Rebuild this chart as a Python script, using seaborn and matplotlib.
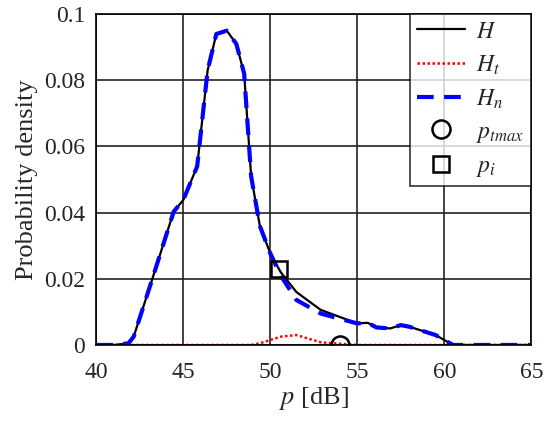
import matplotlib
matplotlib.use("Agg")
import matplotlib.pyplot as plt
import seaborn as sns
import pandas as pd

# values
p = [40, 41, 41.85, 42.15, 43.2, 44.45, 45, 45.8, 46.4, 46.9, 47.5, 48.05, 48.5, 48.9,
     49.4, 50, 50.6, 51.5, 52.9, 55, 55.6, 56.1, 56.9, 57.5, 58, 59.5, 60.5, 62, 65]
H = [0, 0, 0.0005, 0.0025, 0.0196, 0.0403, 0.0438, 0.054, 0.083, 0.094, 0.095, 0.091,
     0.082, 0.051, 0.036, 0.0277, 0.022, 0.016, 0.0106, 0.0065, 0.0067, 0.0053, 0.005,
     0.006, 0.0055, 0.003, 0, 0, 0]
Hn = [0, 0, 0.0005, 0.0025, 0.0196, 0.0403, 0.0438, 0.054, 0.083, 0.094, 0.095, 0.091,
      0.082, 0.051, 0.036, 0.0277, 0.021, 0.0136, 0.0095, 0.0065, 0.0067, 0.0053, 0.005,
      0.006, 0.0055, 0.003, 0, 0, 0]
Ht = [0, 0, 0, 0, 0, 0, 0, 0, 0, 0, 0, 0, 0, 0.0,
      0.0005, 0.0015, 0.0025, 0.003, 0.0008, 0, 0, 0, 0, 0, 0, 0, 0, 0, 0]
p_tmax = (54, 0)
p_i = (50.5, 0.023)

df = pd.DataFrame({"p": p, "H": H, "Ht": Ht, "Hn": Hn})

sns.set_style("white")
plt.rcParams["font.family"] = ["Liberation Serif", "DejaVu Serif"]
plt.rcParams["mathtext.fontset"] = "stix"

fig = plt.figure(figsize=(5.5, 4.28), dpi=100)
ax = fig.add_axes([0.175, 0.194, 0.791, 0.773])

sns.lineplot(data=df, x="p", y="H", ax=ax, color="black", lw=1.6, label="$H$")
sns.lineplot(data=df, x="p", y="Ht", ax=ax, color="red", lw=1.8, ls=(0, (1, 1)), label="$H_t$")
sns.lineplot(data=df, x="p", y="Hn", ax=ax, color="blue", lw=3, ls=(0, (4, 2.5)), label="$H_n$")
ax.plot(*p_tmax, "o", ms=13, mfc="none", mec="black", mew=1.8, ls="none", label="$p_{tmax}$")
ax.plot(*p_i, "s", ms=12, mfc="none", mec="black", mew=1.8, ls="none", label="$p_i$")

ax.set_xlim(40, 65)
ax.set_ylim(0, 0.1)
ax.set_xticks([40, 45, 50, 55, 60, 65])
ax.set_yticks([0, 0.02, 0.04, 0.06, 0.08, 0.1])
ax.set_yticklabels(["0", "0.02", "0.04", "0.06", "0.08", "0.1"])
ax.grid(True, color="#222222", lw=1.2)
for s in ax.spines.values():
    s.set_color("black")
    s.set_linewidth(1.2)
ax.tick_params(labelsize=17, direction="in", length=0)
ax.tick_params(axis="x", pad=12)
ax.tick_params(axis="y", pad=8)
ax.set_xlabel("$p$ [dB]", fontsize=19, labelpad=2)
ax.set_ylabel("Probability density", fontsize=19, labelpad=4)

leg = ax.legend(loc="upper right", fontsize=17, frameon=True, fancybox=False,
                edgecolor="black", handlelength=2.0, handletextpad=0.5,
                labelspacing=0.45, borderaxespad=0, borderpad=0.3)
leg.get_frame().set_linewidth(1.2)

fig.savefig("out.png", dpi=100)
